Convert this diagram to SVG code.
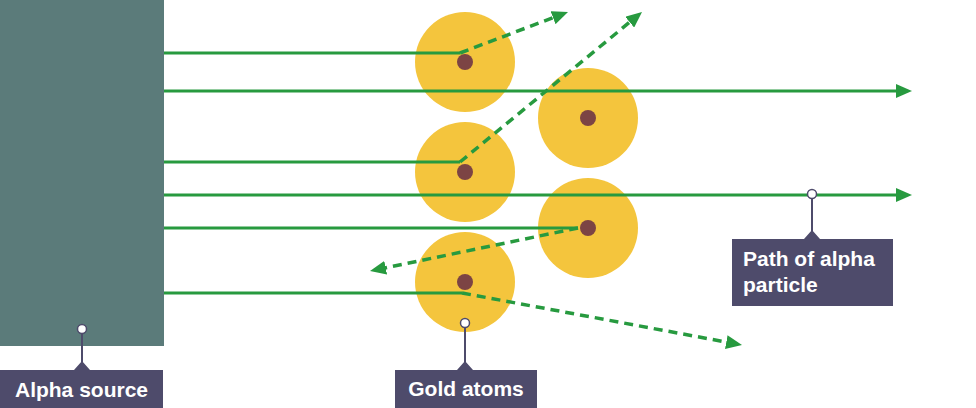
<svg xmlns="http://www.w3.org/2000/svg" width="976" height="408" viewBox="0 0 976 408">
<style>
.atom{fill:#f4c53d}
.nuc{fill:#7c4444}
.ray{stroke:#279a3f;stroke-width:3;fill:none}
.dash{stroke:#279a3f;stroke-width:3.5;fill:none;stroke-dasharray:9 6}
.box{fill:#4e4b6b}
.ptr{stroke:#4e4b6b;stroke-width:2}
.dot{fill:#fff;stroke:#4e4b6b;stroke-width:1.5}
.lbl{font-family:"Liberation Sans",Arial,sans-serif;font-weight:bold;font-size:21px;fill:#fff}
</style>
<defs>
<marker id="ah" viewBox="0 0 16 14" refX="10" refY="7" markerWidth="16" markerHeight="14" markerUnits="userSpaceOnUse" orient="auto">
<path d="M0,0 L16,7 L0,14 z" fill="#279a3f"/>
</marker>
</defs>
<rect width="976" height="408" fill="#fff"/>
<g id="alpha-source-block"><rect x="0" y="0" width="164" height="346" fill="#5b7b7a"/></g>
<g id="atom1"><circle class="atom" cx="465" cy="62" r="50"/><circle class="nuc" cx="465" cy="62" r="8"/></g>
<g id="atom2"><circle class="atom" cx="588" cy="118" r="50"/><circle class="nuc" cx="588" cy="118" r="8"/></g>
<g id="atom3"><circle class="atom" cx="465" cy="172" r="50"/><circle class="nuc" cx="465" cy="172" r="8"/></g>
<g id="atom4"><circle class="atom" cx="588" cy="228" r="50"/><circle class="nuc" cx="588" cy="228" r="8"/></g>
<g id="atom5"><circle class="atom" cx="465" cy="282" r="50"/><circle class="nuc" cx="465" cy="282" r="8"/></g>
<g id="connectors">
<line class="ray" x1="164" y1="53" x2="460" y2="53"/>
<line class="dash" x1="460" y1="53" x2="562.4" y2="14.1" marker-end="url(#ah)"/>
<line class="ray" x1="164" y1="91" x2="906" y2="91" marker-end="url(#ah)"/>
<line class="ray" x1="164" y1="162" x2="460" y2="162"/>
<line class="dash" x1="460" y1="162" x2="637.4" y2="15.8" marker-end="url(#ah)"/>
<line class="ray" x1="164" y1="195" x2="906" y2="195" marker-end="url(#ah)"/>
<line class="ray" x1="164" y1="228" x2="578" y2="228"/>
<line class="dash" x1="578" y1="228" x2="375.9" y2="269.8" marker-end="url(#ah)"/>
<line class="ray" x1="164" y1="293" x2="462" y2="293"/>
<line class="dash" x1="462" y1="293" x2="736.1" y2="343.9" marker-end="url(#ah)"/>
</g>
<g id="label-alpha-source">
<line class="ptr" x1="82" y1="329" x2="82" y2="366"/>
<circle class="dot" cx="82" cy="329" r="4.5"/>
<path class="box" d="M0,370 H74 L82,361 L90,370 H163 V408 H0 z"/>
<text class="lbl" x="81.5" y="397" text-anchor="middle">Alpha source</text>
</g>
<g id="label-gold-atoms">
<line class="ptr" x1="465" y1="323" x2="465" y2="366"/>
<circle class="dot" cx="465" cy="323" r="4.5"/>
<path class="box" d="M395,370 H457 L465,361 L473,370 H537 V408 H395 z"/>
<text class="lbl" x="466" y="396" text-anchor="middle">Gold atoms</text>
</g>
<g id="label-path">
<line class="ptr" x1="812" y1="194" x2="812" y2="235"/>
<circle class="dot" cx="812" cy="194" r="4.5"/>
<path class="box" d="M732,239 H804 L812,230 L820,239 H893 V306 H732 z"/>
<text class="lbl" x="743" y="266">Path of alpha</text>
<text class="lbl" x="743" y="292">particle</text>
</g>
</svg>
